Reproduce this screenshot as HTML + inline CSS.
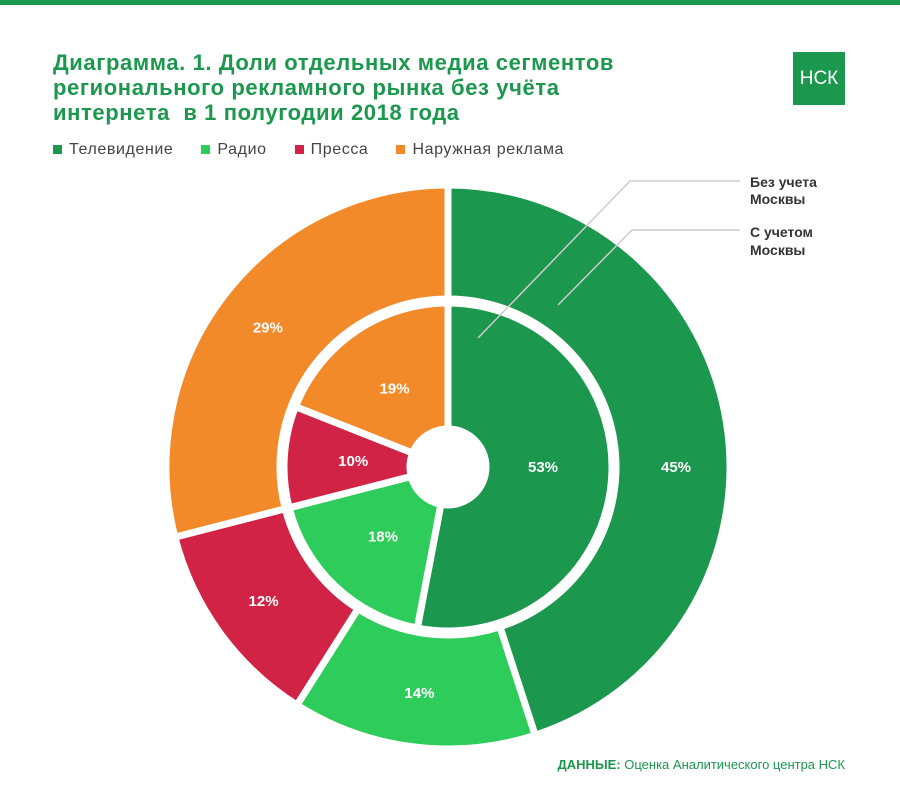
<!DOCTYPE html>
<html><head><meta charset="utf-8"><style>
body{margin:0;width:900px;height:804px;background:#fff;overflow:hidden;position:relative;font-family:"Liberation Sans","DejaVu Sans",sans-serif}
.t{position:absolute;left:53px;top:50px;color:#1b974e;font-weight:bold;font-size:22px;letter-spacing:0.6px;line-height:25px;margin:0}
.lg{position:absolute;top:141px;left:53px;font-size:16px;letter-spacing:0.6px;color:#444;display:flex;gap:28px}
.lg span i{display:inline-block;width:9px;height:9px;margin-right:7px}
</style></head><body>
<div style="position:absolute;left:0;top:0;width:900px;height:5px;background:#1b974e"></div>
<h1 class="t">Диаграмма. 1. Доли отдельных медиа сегментов<br>регионального рекламного рынка без учёта<br>интернета&nbsp; в 1 полугодии 2018 года</h1>
<div style="position:absolute;left:793px;top:52px;width:52px;height:53px;background:#1b974e;color:#fff;font-size:19px;line-height:53px;text-align:center;border:0">НСК</div>
<div class="lg">
<span><i style="background:#1b974e"></i>Телевидение</span>
<span><i style="background:#2ecc5a"></i>Радио</span>
<span><i style="background:#d12346"></i>Пресса</span>
<span><i style="background:#f28a2a"></i>Наружная реклама</span>
</div>
<svg id="c" width="900" height="804" style="position:absolute;left:0;top:0"></svg>
<div style="position:absolute;right:55px;top:757px;font-size:13px;color:#1b974e"><b>ДАННЫЕ:</b> Оценка Аналитического центра НСК</div>
<script>
const categories=["Телевидение","Радио","Пресса","Наружная реклама"];
const outerValues=[45,14,12,29];
const innerValues=[53,18,10,19];
const colors=["#1b974e","#2ecc5a","#d12346","#f28a2a"];
const NS="http://www.w3.org/2000/svg",svg=document.getElementById("c");
const cx=448,cy=467;
function pt(a,r){return [cx+r*Math.sin(a),cy-r*Math.cos(a)];}
function arc(a0,a1,r0,r1){const [x0,y0]=pt(a0,r1),[x1,y1]=pt(a1,r1),[x2,y2]=pt(a1,r0),[x3,y3]=pt(a0,r0);const l=a1-a0>Math.PI?1:0;
return `M${x0},${y0}A${r1},${r1} 0 ${l} 1 ${x1},${y1}L${x2},${y2}A${r0},${r0} 0 ${l} 0 ${x3},${y3}Z`;}
function ring(vals,r0,r1,lr,name,bias){const tot=vals.reduce((a,b)=>a+b,0);let acc=0;
vals.forEach((v,i)=>{const a0=acc/tot*2*Math.PI;acc+=v;const a1=acc/tot*2*Math.PI;
const p=document.createElementNS(NS,"path");p.setAttribute("d",arc(a0,a1,r0,r1));p.setAttribute("fill",colors[i]);p.setAttribute("stroke","#fff");p.setAttribute("stroke-width","7");


svg.appendChild(p);
let m=(a0+a1)/2;if(a1-a0>Math.PI*0.8)m=m+(Math.PI/2-m)*bias;
const [tx,ty]=pt(m,lr);const t=document.createElementNS(NS,"text");t.setAttribute("x",tx);t.setAttribute("y",ty+5);t.setAttribute("text-anchor","middle");t.setAttribute("fill","#fff");t.setAttribute("font-weight","bold");t.setAttribute("font-size","15");t.textContent=v+"%";


svg.appendChild(t);});}
ring(outerValues,168,282,228,"outer",1);
ring(innerValues,38,164,95,"inner",1);
const lines=[[478,338,630,181,740],[558,305,632,230,740]];
lines.forEach((l,i)=>{const p=document.createElementNS(NS,"polyline");p.setAttribute("points",`${l[0]},${l[1]} ${l[2]},${l[3]} ${l[4]},${l[3]}`);p.setAttribute("fill","none");p.setAttribute("stroke","#ccc");p.setAttribute("stroke-width","1.5");


svg.appendChild(p);});
[["Без учета",187],["Москвы",204],["С учетом",237],["Москвы",255]].forEach((s,i)=>{const t=document.createElementNS(NS,"text");t.setAttribute("x",750);t.setAttribute("y",s[1]);t.setAttribute("fill","#333");t.setAttribute("font-weight","bold");t.setAttribute("font-size","14");t.textContent=s[0];


svg.appendChild(t);});
</script>
</body></html>
